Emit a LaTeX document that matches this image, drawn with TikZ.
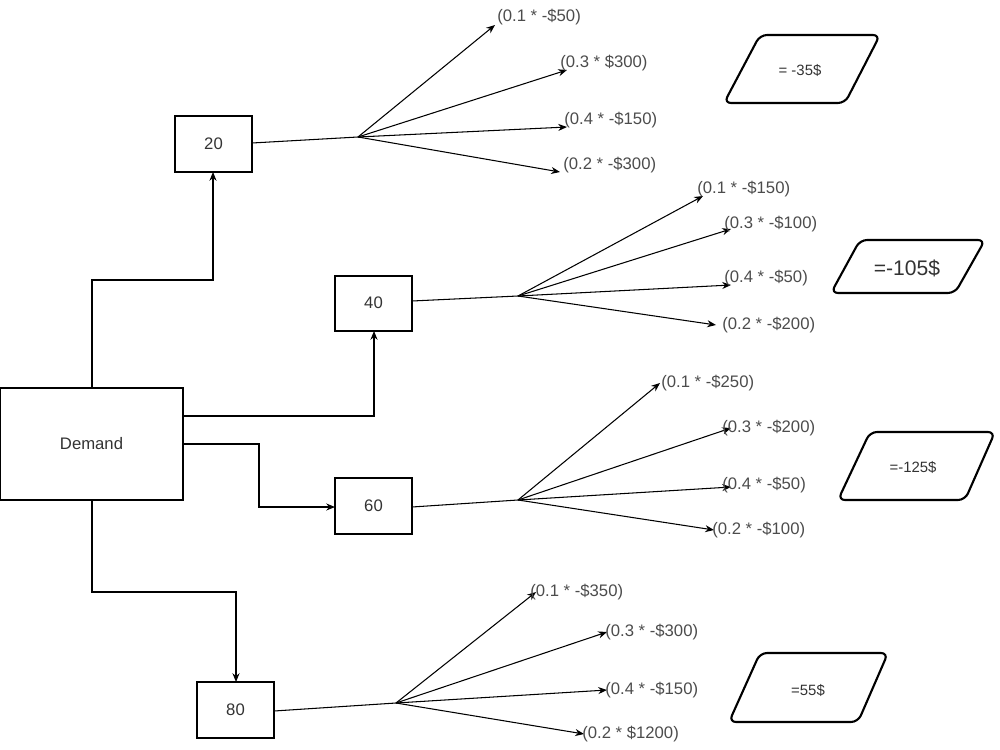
\documentclass[tikz,border=0pt]{standalone}
\usepackage{fontspec}
\setmainfont{Liberation Sans}
\usetikzlibrary{arrows.meta}
\begin{document}
\begin{tikzpicture}[x=0.02cm,y=-0.02cm,
  box/.style={draw,line width=0.6pt,inner sep=0},
  con/.style={draw,line width=0.6pt,-{Stealth[length=5pt,width=4pt]}},
  lbl/.style={anchor=west,inner sep=0,text=black!70,font=\fontsize{9.5}{11}\selectfont},
  par/.style={draw,line width=1.2pt,rounded corners=4pt},
  res/.style={text=black!80,font=\fontsize{8.5}{10}\selectfont},
  btx/.style={text=black!80,font=\fontsize{9.5}{11}\selectfont}]
\useasboundingbox (0,0) rectangle (1000,750);
% boxes
\draw[box] (0,388) rectangle (183,500); \node[btx] (dem) at (91.5,444) {Demand};
\coordinate (demN) at (92,388); \coordinate (demS) at (92,500);
\draw[box] (175,116) rectangle (252,172); \node[btx] (b20) at (213.5,144) {20};
\draw[box] (335,276) rectangle (412,331); \node[btx] (b40) at (373.5,303) {40};
\draw[box] (335,478) rectangle (412,534); \node[btx] (b60) at (373.5,506) {60};
\draw[box] (197,682) rectangle (274,738); \node[btx] (b80) at (235.5,710) {80};
% demand connectors
\draw[con] (demN) -- (92,280) -- (213,280) -- (213,172);
\draw[con] (183,416) -- (374,416) -- (374,331);
\draw[con] (183,444) -- (259,444) -- (259,507) -- (335,507);
\draw[con] (demS) -- (92,592) -- (236,592) -- (236,682);
% fan 20
\coordinate (f1) at (358,137);
\draw[line width=0.6pt] (252,143) -- (f1);
\foreach \p in {(495,25),(567,70),(567,127),(560,172)} \draw[con] (f1) -- \p;
\node[lbl] (l11) at (497,17) {(0.1 * -\$50)};
\node[lbl] (l12) at (560,63) {(0.3 * \$300)};
\node[lbl] (l13) at (564,120) {(0.4 * -\$150)};
\node[lbl] (l14) at (563,165) {(0.2 * -\$300)};
% fan 40
\coordinate (f2) at (518,296);
\draw[line width=0.6pt] (412,301) -- (f2);
\foreach \p in {(703,196),(731,229),(731,285),(716,325)} \draw[con] (f2) -- \p;
\node[lbl] (l21) at (697,189) {(0.1 * -\$150)};
\node[lbl] (l22) at (724,224) {(0.3 * -\$100)};
\node[lbl] (l23) at (724,278) {(0.4 * -\$50)};
\node[lbl] (l24) at (722,325) {(0.2 * -\$200)};
% fan 60
\coordinate (f3) at (518,500);
\draw[line width=0.6pt] (412,507) -- (f3);
\foreach \p in {(660,383),(731,428),(731,487),(714,530)} \draw[con] (f3) -- \p;
\node[lbl] (l31) at (661,383) {(0.1 * -\$250)};
\node[lbl] (l32) at (722,428) {(0.3 * -\$200)};
\node[lbl] (l33) at (722,485) {(0.4 * -\$50)};
\node[lbl] (l34) at (712,530) {(0.2 * -\$100)};
% fan 80
\coordinate (f4) at (396,703);
\draw[line width=0.6pt] (274,711) -- (f4);
\foreach \p in {(536,592),(607,632),(607,690),(584,734)} \draw[con] (f4) -- \p;
\node[lbl] (l41) at (530,592) {(0.1 * -\$350)};
\node[lbl] (l42) at (605,632) {(0.3 * -\$300)};
\node[lbl] (l43) at (605,690) {(0.4 * -\$150)};
\node[lbl] (l44) at (582,734) {(0.2 * \$1200)};
% results
\draw[par] (724,103) -- (760,35) -- (880,35) -- (845,103) -- cycle;
\node[res] (r1) at (800,70) {= -35\$};
\draw[par] (831,293) -- (860,240) -- (985,240) -- (955,293) -- cycle;
\node[res,font=\fontsize{12}{14}\selectfont] (r2) at (907,268) {=-105\$};
\draw[par] (838,500) -- (870,432) -- (995,432) -- (965,500) -- cycle;
\node[res] (r3) at (913,467) {=-125\$};
\draw[par] (729,722) -- (760,653) -- (888,653) -- (858,722) -- cycle;
\node[res] (r4) at (808,690) {=55\$};
\end{tikzpicture}
\end{document}
